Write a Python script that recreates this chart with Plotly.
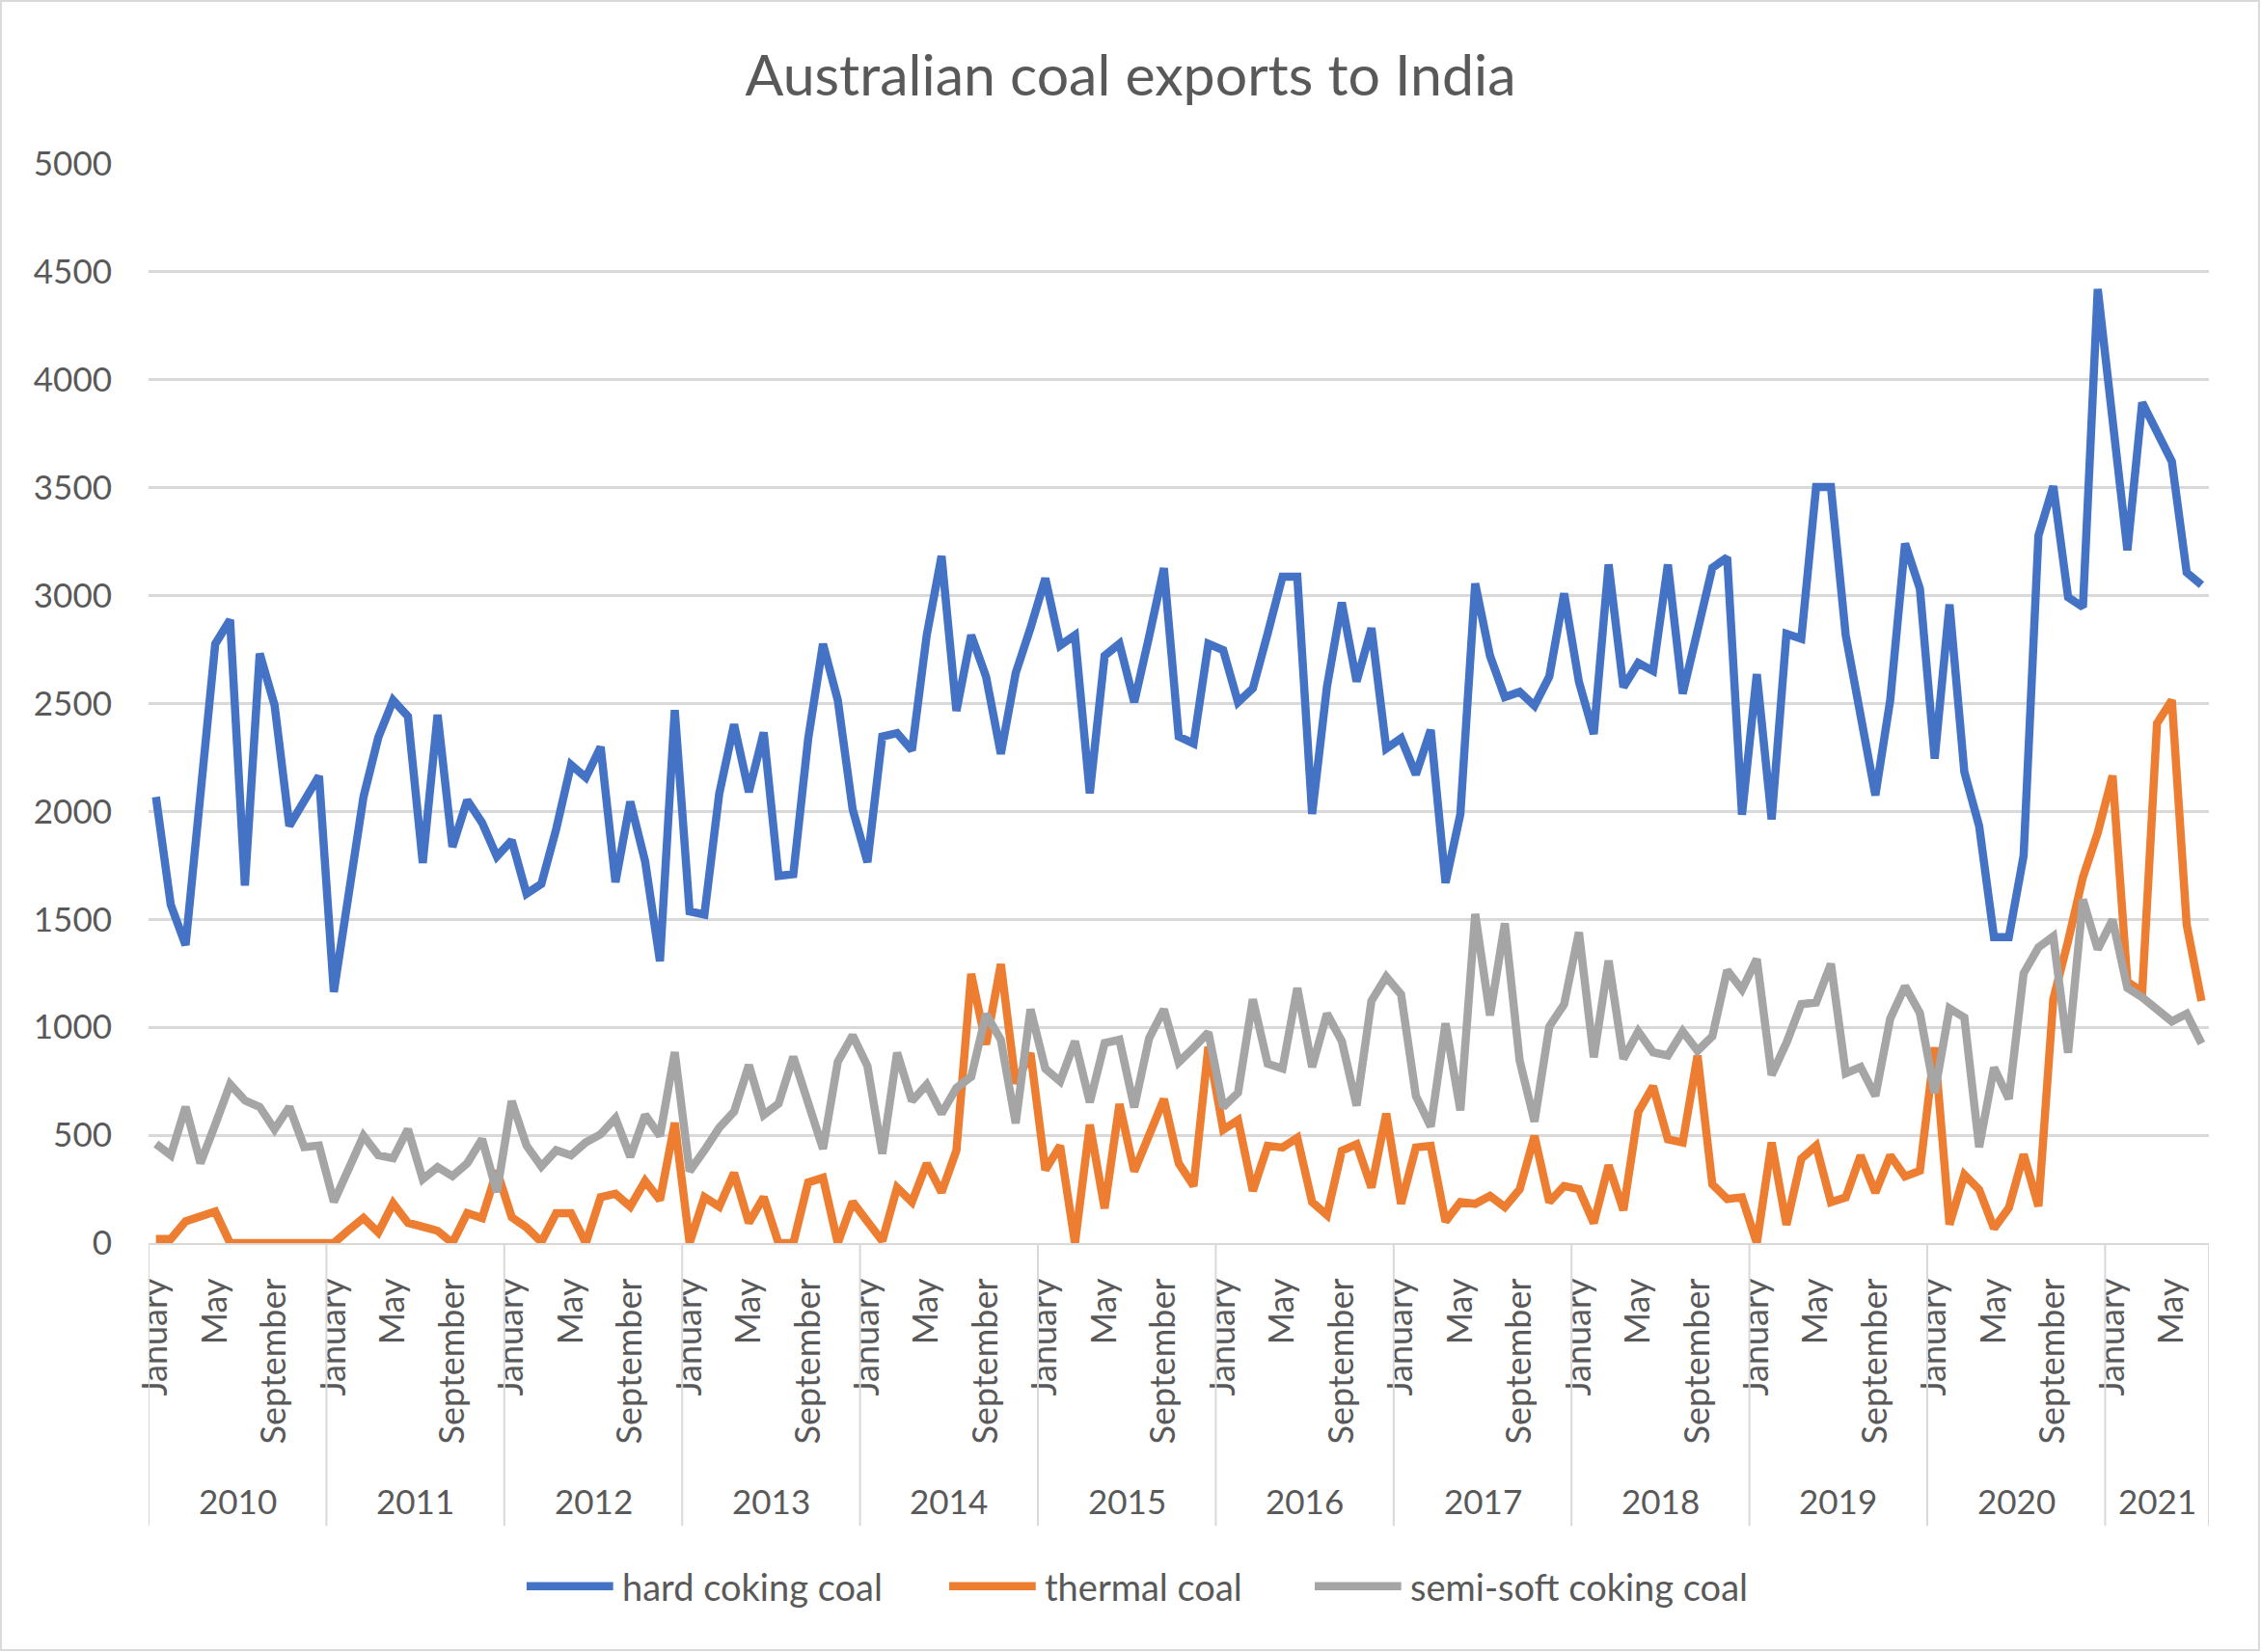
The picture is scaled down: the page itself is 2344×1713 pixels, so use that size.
import plotly.graph_objects as go

# ---- data (thousand tonnes, monthly Jan 2010 - Jul 2021) ----
years = [2010, 2011, 2012, 2013, 2014, 2015, 2016, 2017, 2018, 2019, 2020, 2021]
month_names = ["January", "February", "March", "April", "May", "June", "July",
               "August", "September", "October", "November", "December"]
labelled_months = ["January", "May", "September"]

hard_coking = [
    2067, 1567, 1381, 2080, 2776, 2888, 1657, 2731, 2493, 1933, 2052, 2164,
    1164, 1620, 2067, 2343, 2515, 2440, 1761, 2448, 1836, 2052, 1948, 1791,
    1866, 1619, 1664, 1918, 2216, 2157, 2299, 1672, 2045, 1769, 1306, 2470,
    1537, 1522, 2082, 2403, 2090, 2366, 1701, 1709, 2336, 2776, 2515, 2010,
    1765, 2347, 2363, 2283, 2817, 3183, 2466, 2817, 2625, 2267, 2641, 2850,
    3080, 2769, 2817, 2084, 2721, 2777, 2506, 2810, 3127, 2347, 2315, 2777,
    2748, 2506, 2570, 2825, 3088, 3088, 1988, 2578, 2968, 2602, 2849, 2291,
    2339, 2171, 2378, 1669, 1988, 3056, 2721, 2530, 2554, 2490, 2625, 3010,
    2600, 2359, 3144, 2576, 2688, 2651, 3144, 2546, 2840, 3129, 3177, 1985,
    2636, 1963, 2823, 2800, 3503, 3503, 2815, 2450, 2075, 2516, 3241, 3032,
    2245, 2959, 2183, 1932, 1418, 1418, 1795, 3279, 3507, 2993, 2947, 4420,
    3800, 3210, 3895, 3747, 3621, 3107, 3050,
]

thermal = [
    19, 19, 101, 124, 146, 0, 0, 0, 0, 0, 0, 0,
    0, 60, 116, 49, 184, 94, 72, 57, 0, 139, 116, 335,
    120, 72, 5, 139, 139, 0, 213, 228, 169, 288, 199, 557,
    0, 213, 169, 325, 94, 213, 0, 0, 281, 303, 0, 191,
    100, 10, 257, 190, 369, 235, 429, 1247, 920, 1292, 740, 880,
    339, 451, 0, 548, 161, 644, 332, 503, 667, 369, 265, 910,
    525, 570, 242, 451, 443, 488, 190, 130, 428, 458, 257, 600,
    182, 443, 451, 100, 190, 182, 219, 167, 249, 496, 190, 264,
    250, 93, 361, 152, 607, 727, 481, 466, 869, 272, 204, 212,
    0, 466, 85, 391, 451, 190, 212, 406, 234, 406, 309, 335,
    907, 86, 317, 248, 68, 163, 411, 171, 1130, 1400, 1695, 1901,
    2166, 1210, 1166, 2408, 2516, 1475, 1122,
]

semi_soft = [
    460, 407, 631, 370, 550, 736, 661, 631, 527, 631, 445, 452,
    191, 335, 497, 407, 393, 527, 296, 352, 310, 370, 482, 236,
    658, 452, 355, 430, 407, 467, 504, 579, 400, 594, 497, 885,
    333, 430, 534, 609, 825, 594, 646, 863, 655, 437, 840, 962,
    820, 414, 882, 659, 734, 600, 719, 771, 1061, 942, 555, 1083,
    808, 749, 935, 652, 927, 942, 629, 949, 1083, 838, 905, 976,
    630, 697, 1130, 831, 809, 1182, 816, 1063, 936, 637, 1122, 1234,
    1152, 682, 540, 1018, 615, 1525, 1055, 1481, 846, 563, 1003, 1107,
    1440, 861, 1309, 854, 981, 884, 869, 981, 891, 958, 1264, 1175,
    1316, 779, 928, 1107, 1115, 1294, 787, 816, 682, 1040, 1190, 1066,
    696, 1087, 1045, 445, 813, 668, 1250, 1370, 1421, 882, 1592, 1361,
    1498, 1182, 1139, 1087, 1027, 1062, 925,
]

series_names = ["hard coking coal", "thermal coal", "semi-soft coking coal"]
series_values = [hard_coking, thermal, semi_soft]
series_colors = ["#4472C4", "#ED7D31", "#A5A5A5"]

# ---- derived category structure ----
n = len(hard_coking)
idx = list(range(n))
month_of = [month_names[i % 12] for i in idx]
year_of = [years[i // 12] for i in idx]

FONT = "Lato"
TXT = "#595959"
GRID = "#D9D9D9"
LW = 8.5

fig = go.Figure()
for name, vals, col in zip(series_names, series_values, series_colors):
    fig.add_trace(go.Scatter(
        x=idx, y=vals, name=name, mode="lines", showlegend=False,
        line=dict(color=col, width=LW, shape="linear"),
        hovertext=[f"{m} {y}" for m, y in zip(month_of, year_of)],
    ))

tickvals = [i for i in idx if month_of[i] in labelled_months]
ticktext = [month_of[i] for i in tickvals]

shapes = []
annotations = []
# year group labels and separators
for y in years:
    members = [i for i in idx if year_of[i] == y]
    if not members:
        continue
    annotations.append(dict(
        x=(members[0] + members[-1]) / 2, y=-0.2386, xref="x", yref="paper",
        text=str(y), showarrow=False, font=dict(family=FONT, size=35, color=TXT),
        xanchor="center", yanchor="middle"))
    shapes.append(dict(type="line", xref="x", yref="paper",
                       x0=members[0] - 0.5, x1=members[0] - 0.5, y0=0, y1=-0.262,
                       line=dict(color=GRID, width=2)))
shapes.append(dict(type="line", xref="x", yref="paper",
                   x0=n - 0.5, x1=n - 0.5, y0=0, y1=-0.262,
                   line=dict(color=GRID, width=2)))

# legend (Excel style: long line samples), in paper coordinates
legend_y = -0.318
legend_line_x = [0.1835, 0.3886, 0.5660]
sample_len = 0.0420
for name, col, lx in zip(series_names, series_colors, legend_line_x):
    shapes.append(dict(type="line", xref="paper", yref="paper",
                       x0=lx, x1=lx + sample_len, y0=legend_y, y1=legend_y,
                       line=dict(color=col, width=LW)))
    annotations.append(dict(x=lx + sample_len + 0.0035, y=legend_y, xref="paper", yref="paper",
                            text=name, showarrow=False, xanchor="left", yanchor="middle",
                            font=dict(family=FONT, size=38, color=TXT)))

# chart-area border
shapes.append(dict(type="rect", xref="paper", yref="paper",
                   x0=-0.0716, x1=1.0243, y0=-0.3771, y1=1.151,
                   line=dict(color=GRID, width=2), fillcolor="rgba(0,0,0,0)", layer="below"))

fig.update_layout(
    width=2344, height=1713,
    margin=dict(l=154, r=54, t=170, b=424),
    paper_bgcolor="white", plot_bgcolor="white",
    font=dict(family=FONT, color=TXT, size=35),
    title=dict(text="Australian coal exports to India", x=0.5, xref="container",
               xanchor="center", y=1 - 78 / 1713, yref="container", yanchor="middle",
               font=dict(family=FONT, size=59, color=TXT)),
    xaxis=dict(range=[-0.5, n - 0.5], tickmode="array", tickvals=tickvals, ticktext=ticktext,
               tickangle=-90, showgrid=False, zeroline=False, showline=True,
               linecolor=GRID, linewidth=2, ticks="outside", ticklen=20,
               tickcolor="rgba(0,0,0,0)", tickfont=dict(family=FONT, size=36, color=TXT)),
    yaxis=dict(range=[0, 5000], dtick=500, tick0=0, showgrid=True, gridcolor=GRID,
               gridwidth=2.5, zeroline=False, showline=False, ticks="outside", ticklen=30,
               tickcolor="rgba(0,0,0,0)", tickformat="d",
               tickfont=dict(family=FONT, size=35, color=TXT)),
    showlegend=False,
    shapes=shapes, annotations=annotations,
)

fig.write_html("out.html")
